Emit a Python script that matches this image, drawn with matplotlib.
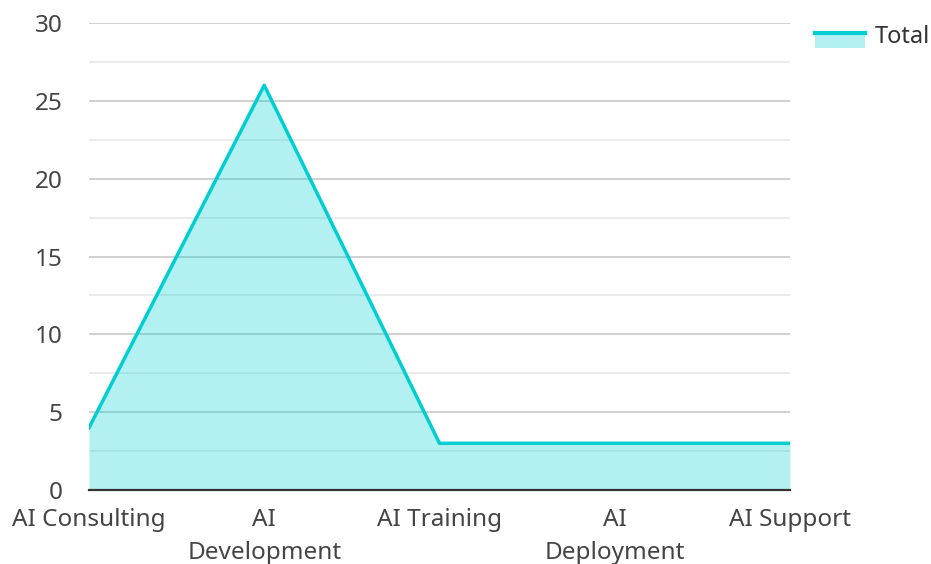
import matplotlib.pyplot as plt
from matplotlib.patches import Rectangle
from matplotlib.lines import Line2D
from matplotlib.legend_handler import HandlerBase

plt.rcParams['font.family'] = ['Noto Sans', 'DejaVu Sans']

categories = ['AI Consulting', 'AI\nDevelopment', 'AI Training', 'AI\nDeployment', 'AI Support']
totals = [4, 26, 3, 3, 3]

line_color = '#00CED1'


class AreaHandler(HandlerBase):
    # filled box with the line along its top edge, sitting a bit low
    def create_artists(self, legend, orig, xd, yd, w, h, fontsize, trans):
        y0 = -yd - 0.4 * h
        box = Rectangle((-xd, y0), w, h, facecolor=line_color, alpha=0.3,
                        edgecolor='none', transform=trans)
        ln = Line2D([-xd, -xd + w], [y0 + h, y0 + h], color=line_color,
                    lw=3, transform=trans)
        return [box, ln]


fig = plt.figure(figsize=(9.31, 5.64), dpi=100)
ax = fig.add_axes([0.0956, 0.1312, 0.7529, 0.828])

x = list(range(len(categories)))
ax.fill_between(x, totals, 0, color=line_color, alpha=0.3, lw=0, zorder=3)
ax.plot(x, totals, color=line_color, lw=2.5, zorder=4)

ax.set_xlim(0, 4)
ax.set_ylim(0, 30)
ax.set_yticks(range(0, 31, 5))
ax.set_yticks([2.5 + 5 * i for i in range(6)], minor=True)
ax.grid(axis='y', which='major', color='#c8c8c8', lw=1.2, zorder=5)
ax.grid(axis='y', which='minor', color='#e8e8e8', lw=1.2, zorder=5)
ax.set_axisbelow(False)

ax.set_xticks(x)
ax.set_xticklabels(categories, linespacing=1.5)
ax.tick_params(axis='both', which='both', length=0, labelsize=17.5, colors='#444444')
ax.tick_params(axis='x', pad=13)
ax.tick_params(axis='y', pad=19)

for s in ['top', 'right', 'left']:
    ax.spines[s].set_visible(False)
ax.spines['bottom'].set_color('#333333')
ax.spines['bottom'].set_linewidth(1.6)
ax.spines['bottom'].set_zorder(6)

fig.legend([object()], ['Total'], handler_map={object: AreaHandler()},
           loc='upper left', bbox_to_anchor=(815 / 931, 1 - 25 / 564), frameon=False,
           borderpad=0, borderaxespad=0,
           fontsize=17, handlelength=2.1, handleheight=0.62, handletextpad=0.42,
           labelcolor='#333333')

fig.savefig('out.png', dpi=100)
